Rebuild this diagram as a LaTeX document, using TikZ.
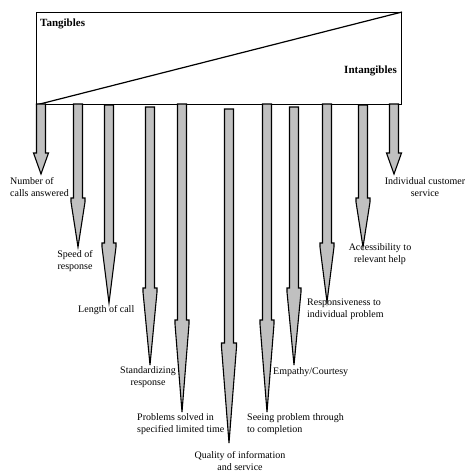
\documentclass[tikz,border=0pt]{standalone}
\usepackage{fontspec}
\setmainfont{Liberation Serif}
\begin{document}
\begin{tikzpicture}[x=1pt,y=-1pt,
  lab/.style={font=\fontsize{10}{12}\selectfont, inner sep=0pt},
  hdr/.style={font=\fontsize{11}{13}\selectfont\bfseries, inner sep=0pt},
  shaftarrow/.style={fill={rgb,255:red,192;green,192;blue,192}, draw=black, line width=1.1pt, line join=miter}]
\useasboundingbox (0,0) rectangle (474,474);
% header box
\node[draw, line width=1pt, minimum width=365pt, minimum height=92pt, inner sep=0pt, anchor=north west] (box) at (36,12) {};
\draw[line width=1.2pt] (box.south west) -- (box.north east);
\node[hdr, anchor=west] (tang) at (40,24) {Tangibles};
\node[hdr, anchor=east] (intang) at (397,71) {Intangibles};
% arrows: x / top / head start / tip / head half width / straight part
\foreach \x/\t/\h/\p/\w/\s in {41/104/153/174/7.5/0, 78/104/198/247/7/4, 109/105/243/303/7/4,
  150/107/288/365/7/4, 182/104/320/412/7/4, 229/109/343/443/7.5/4, 267/104/320/412/7/4,
  294/107/288/365/7/4, 327/104/243/302/7/4, 363/105/198/247/7/4, 394/104/153/174/7.5/0}{
  \filldraw[shaftarrow] ({\x-4.5},\t) -- ({\x-4.5},\h) -- ({\x-\w},\h) -- ({\x-\w},{\h+\s})
    -- (\x,\p) -- ({\x+\w},{\h+\s}) -- ({\x+\w},\h) -- ({\x+4.5},\h) -- ({\x+4.5},\t) -- cycle;
}
% labels
\node[lab, anchor=north west, align=left] (l1) at (10,177.5) {Number of\\calls answered};
\node[lab, anchor=north, align=center] (l2) at (75,250.5) {Speed of\\response};
\node[lab, anchor=north west, align=left] (l3) at (78,305.5) {Length of call};
\node[lab, anchor=north, align=center] (l4) at (148,366.5) {Standardizing\\response};
\node[lab, anchor=north west, align=left] (l5) at (137,413.5) {Problems solved in\\specified limited time};
\node[lab, anchor=north, align=center] (l6) at (240,451.5) {Quality of information\\and service};
\node[lab, anchor=north west, align=left] (l7) at (247,413.5) {Seeing problem through\\to completion};
\node[lab, anchor=north west, align=left] (l8) at (273,367.5) {Empathy/Courtesy};
\node[lab, anchor=north west, align=left] (l9) at (307,298.5) {Responsiveness to\\individual problem};
\node[lab, anchor=north, align=center] (l10) at (380,243.5) {Accessibility to\\relevant help};
\node[lab, anchor=north, align=center] (l11) at (425,177.5) {Individual customer\\service};
\end{tikzpicture}
\end{document}
